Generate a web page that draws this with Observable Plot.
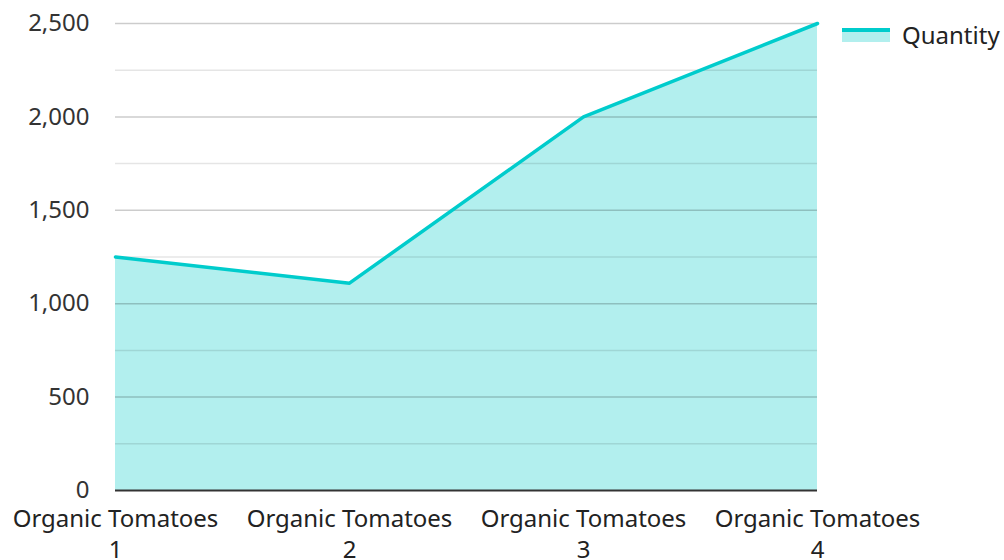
<!DOCTYPE html>
<html>
<head>
<meta charset="utf-8">
<script src="https://cdn.jsdelivr.net/npm/d3@7"></script>
<script src="https://cdn.jsdelivr.net/npm/@observablehq/plot@0.6"></script>
<style>
  html, body { margin: 0; padding: 0; background: #fff; }
  #wrap { position: relative; width: 1004px; height: 560px; font-family: "Noto Sans", sans-serif; }
  #legend { position: absolute; left: 842px; top: 19px; display: flex; align-items: center; font-size: 24px; color: #222; line-height: 32px; }
  #legend .sw { width: 48px; height: 14px; position: relative; margin-right: 12px; background: #b2efee; }
  #legend .sw::before { content: ""; position: absolute; left: 0; top: 0; width: 48px; height: 4px; background: #00cccc; }
</style>
</head>
<body>
<div id="wrap">
  <div id="legend"><div class="sw"></div><span>Quantity</span></div>
</div>
<script>
const categories = ["Organic Tomatoes 1", "Organic Tomatoes 2", "Organic Tomatoes 3", "Organic Tomatoes 4"];
const quantities = [1250, 1110, 2000, 2500];
const majorTicks = [0, 500, 1000, 1500, 2000, 2500];
const minorTicks = [250, 750, 1250, 1750, 2250];

const data = categories.map((c, i) => ({category: c, value: quantities[i]}));

const chart = Plot.plot({
  width: 1004,
  height: 560,
  marginLeft: 115,
  marginRight: 187,
  marginTop: 23,
  marginBottom: 70,
  style: {fontFamily: "Noto Sans, sans-serif", fontSize: "24px", color: "#333", background: "transparent"},
  x: {type: "point", domain: categories, padding: 0},
  y: {domain: [0, 2500]},
  marks: [
    Plot.areaY(data, {x: "category", y: "value", fill: "#b2efee"}),
    Plot.ruleY(minorTicks, {stroke: "#000", strokeOpacity: 0.1, strokeWidth: 1.5}),
    Plot.ruleY(majorTicks.filter(d => d > 0), {stroke: "#000", strokeOpacity: 0.2, strokeWidth: 1.5}),
    Plot.lineY(data, {x: "category", y: "value", stroke: "#00cccc", strokeWidth: 3.5}),
    Plot.ruleY([0], {stroke: "#333", strokeWidth: 2}),
    Plot.axisY({ticks: majorTicks, tickSize: 0, tickPadding: 26, tickFormat: d3.format(","), label: null, fill: "#333", fontSize: 24}),
    Plot.axisX({tickSize: 0, tickPadding: 14, tickFormat: d => d.replace(/ (\d+)$/, "\n$1"), label: null, fill: "#222", fontSize: 24, lineHeight: 1.3})
  ]
});
document.getElementById("wrap").prepend(chart);
chart.style.position = "absolute";
chart.style.left = "0";
chart.style.top = "0";
</script>
</body>
</html>
